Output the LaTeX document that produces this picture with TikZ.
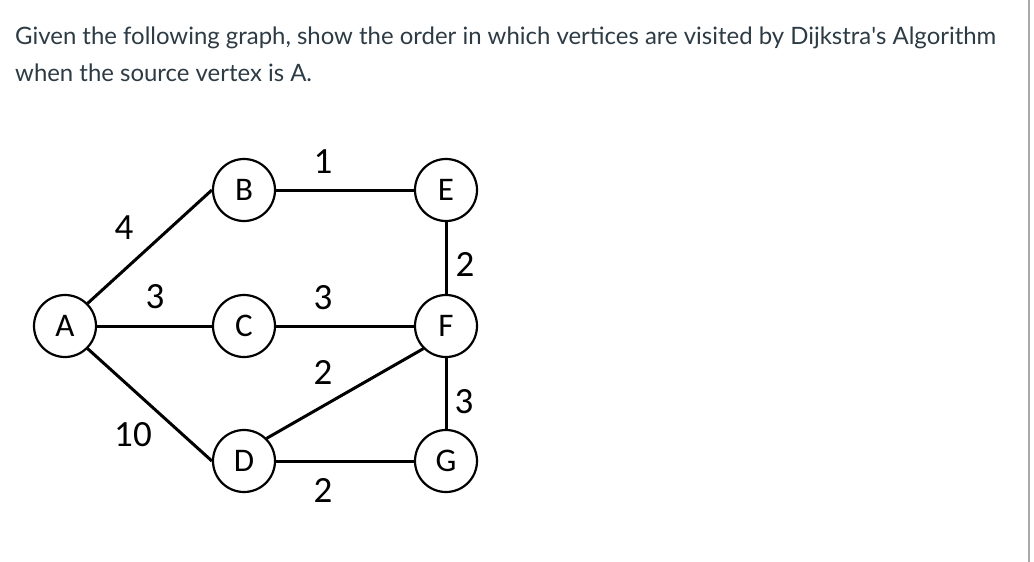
\documentclass[tikz,border=0pt]{standalone}
\usepackage{fontspec}
\newfontfamily\lato{Lato}
\newfontfamily\calib{Carlito}
\definecolor{txt}{HTML}{2D3B45}
\definecolor{edgegray}{HTML}{A9A9A9}
\newlength\titlew
\begin{document}
\settowidth\titlew{\lato\fontsize{20}{20}\selectfont Given the following graph, show the order in which vertices are visited by Dijkstra\textquotesingle s Algorithm}%
\pgfmathsetmacro\tsize{981/\titlew*20}%
\begin{tikzpicture}[x=1pt,y=-1pt,
  vtx/.style={circle, draw=black, line width=2.2pt, fill=white, minimum size=62pt, inner sep=0pt, font=\calib\fontsize{33}{33}\selectfont},
  wlab/.style={font=\calib\fontsize{37}{37}\selectfont, inner sep=0pt, text=black},
  link/.style={line width=3pt, draw=black},
  title/.style={anchor=base west, inner sep=0pt, text=txt, font=\lato\fontsize{\tsize}{\tsize}\selectfont}]
\useasboundingbox (0,0) rectangle (1034,562);
\fill[white] (0,0) rectangle (1034,562);
\coordinate (rtop) at (1029,0);
\coordinate (rbot) at (1029,562);
\draw[edgegray, line width=2pt] (rtop) -- (rbot);
\node[title] (t1) at (15,45) {Given the following graph, show the order in which vertices are visited by Dijkstra\textquotesingle s Algorithm};
\node[title] (t2) at (15,81) {when the source vertex is A.};
% vertices
\node[vtx] (A) at (65,326) {A};
\node[vtx] (B) at (244,190) {B};
\node[vtx] (C) at (244,326) {C};
\node[vtx] (D) at (244,461) {D};
\node[vtx] (E) at (446,190) {E};
\node[vtx] (F) at (446,326) {F};
\node[vtx] (G) at (446,461) {G};
% edges
\draw[link] (A.north east) -- (B.west);
\draw[link] (A) -- (C);
\draw[link] (A.south east) -- (D.west);
\draw[link] (B) -- (E);
\draw[link] (C) -- (F);
\draw[link] (E) -- (F);
\draw[link] (F) -- (G);
\draw[link] (D.north east) -- (F.south west);
\draw[link] (D) -- (G);
% weights
\node[wlab] (wab) at (124,228) {4};
\node[wlab] (wac) at (155,297) {3};
\node[wlab] (wad) at (133,435) {10};
\node[wlab] (wbe) at (323,162) {1};
\node[wlab] (wcf) at (323,298) {3};
\node[wlab] (wdf) at (323,372) {2};
\node[wlab] (wdg) at (323,490) {2};
\node[wlab] (wef) at (465,264) {2};
\node[wlab] (wfg) at (464,402) {3};
\end{tikzpicture}
\end{document}
